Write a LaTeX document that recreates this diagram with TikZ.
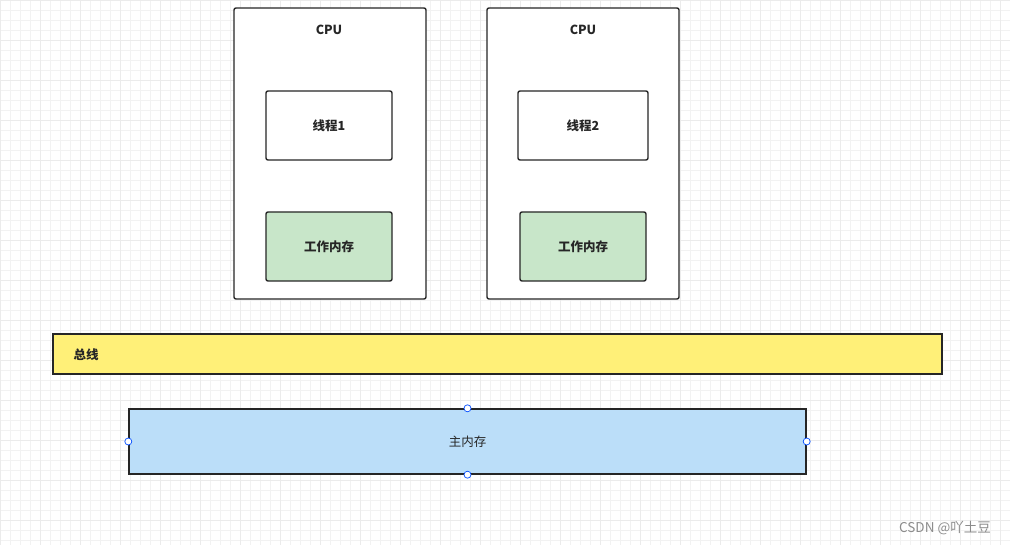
\documentclass[tikz,border=0pt]{standalone}
\usepackage{fontspec}
\setmainfont{Noto Sans CJK SC}
\begin{document}
\begin{tikzpicture}[x=1pt,y=-1pt,
  box/.style={draw=black!85,line width=1.4pt,rounded corners=2pt},
  lbl/.style={font=\fontsize{12.5}{14}\selectfont\bfseries,text=black!85},
  handle/.style={circle,draw=blue!70!cyan,fill=white,inner sep=0pt,minimum size=7pt,line width=0.7pt}]
\useasboundingbox (0,0) rectangle (1010,545);
\fill[white] (0,0) rectangle (1010,545);
\foreach \i in {0,10,...,1010} \draw[black!5,line width=0.5pt] (\i,0) -- (\i,545);
\foreach \j in {0,10,...,540} \draw[black!5,line width=0.5pt] (0,\j) -- (1010,\j);
\foreach \i in {0,40,...,1000} \draw[black!8,line width=0.6pt] (\i,0) -- (\i,545);
\foreach \j in {0,40,...,520} \draw[black!8,line width=0.6pt] (0,\j) -- (1010,\j);
% CPUs
\draw[box,fill=white] (234,8) rectangle (426,299);
\draw[box,fill=white] (487,8) rectangle (679,299);
\node[lbl] (cpu1) at (329,30) {CPU};
\node[lbl] (cpu2) at (583,30) {CPU};
\node[box,fill=white,minimum width=126pt,minimum height=69pt,lbl] (t1) at (329,125.5) {线程1};
\node[box,fill=white,minimum width=130pt,minimum height=69pt,lbl] (t2) at (583,125.5) {线程2};
\node[box,fill={rgb,255:red,200;green,230;blue,201},minimum width=126pt,minimum height=69pt,lbl] (w1) at (329,246.5) {工作内存};
\node[box,fill={rgb,255:red,200;green,230;blue,201},minimum width=126pt,minimum height=69pt,lbl] (w2) at (583,246.5) {工作内存};
% bus
\draw[draw=black!85,line width=1.4pt,fill={rgb,255:red,255;green,240;blue,120}] (53,334) rectangle (942,374);
\node[lbl] (bus) at (86,355) {总线};
% main memory
\node[draw=black!85,line width=1.4pt,fill={rgb,255:red,187;green,222;blue,249},minimum width=677pt,minimum height=65pt,font=\fontsize{12.5}{14}\selectfont,text=black!85] (mm) at (467.5,441.5) {主内存};
\node[handle] at (mm.north) {};
\node[handle] at (mm.south) {};
\node[handle] at (mm.west) {};
\node[handle] at (mm.east) {};
\node[font=\fontsize{13.5}{15}\selectfont,text=black!45] (wm) at (945,528) {CSDN @吖土豆};
\end{tikzpicture}
\end{document}
